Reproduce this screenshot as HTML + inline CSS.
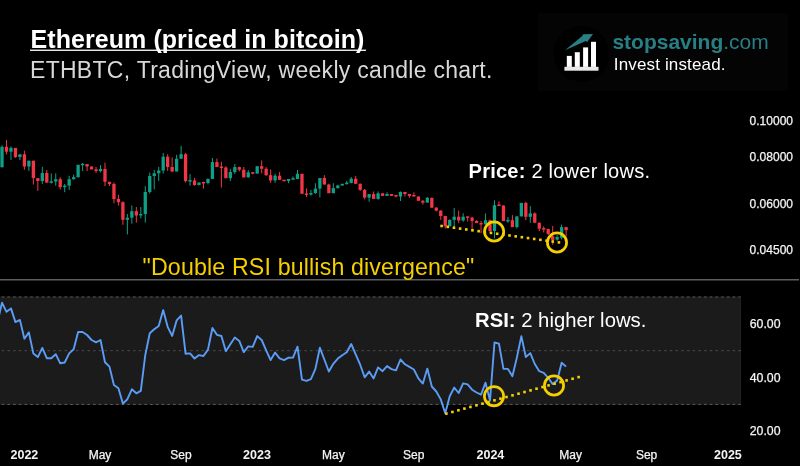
<!DOCTYPE html>
<html><head><meta charset="utf-8"><title>ETHBTC</title><style>
html,body{margin:0;padding:0;background:#000;width:800px;height:466px;overflow:hidden}
svg{display:block;position:absolute;left:0;top:0;will-change:transform}
text{font-family:"Liberation Sans",sans-serif}
</style></head><body>
<svg width="800" height="466" viewBox="0 0 800 466">
<rect x="538" y="13" width="250" height="78" fill="#040404"/>
<circle cx="581.5" cy="54" r="28" fill="#000"/>
<rect x="564.4" y="66.8" width="34.1" height="3.9" fill="#e8e8e8"/>
<rect x="566.8" y="55.9" width="5" height="11.0" fill="#fff"/>
<rect x="574.8" y="52.2" width="5" height="14.7" fill="#fff"/>
<rect x="583.1" y="47.4" width="5" height="19.5" fill="#fff"/>
<rect x="591.0" y="41.8" width="5" height="25.1" fill="#fff"/>
<path d="M565,50.2 L582.6,35.8 L582.9,34.2 L593,34.0 L587.2,42.1 L585.8,41.0 Z" fill="#287f84"/>
<rect x="0" y="279" width="799" height="1.5" fill="#5d5d62"/>
<rect x="0" y="296.5" width="741" height="108.4" fill="#1b1b1b"/>
<line x1="0" y1="297" x2="741" y2="297" stroke="#5a5a5a" stroke-width="1" stroke-dasharray="2.6 3.11" stroke-dashoffset="-1.7"/>
<line x1="0" y1="350.7" x2="741" y2="350.7" stroke="#4a4a4a" stroke-width="1" stroke-dasharray="2.6 3.11" stroke-dashoffset="-1.7"/>
<line x1="0" y1="404.4" x2="741" y2="404.4" stroke="#5e5e5e" stroke-width="1" stroke-dasharray="2.6 3.11" stroke-dashoffset="-1.7"/>
<line x1="740.5" y1="297" x2="740.5" y2="404" stroke="#272727" stroke-width="1" stroke-dasharray="1 1"/>
<rect x="1.51" y="145.3" width="1.0" height="22.2" fill="#0e9f86"/>
<rect x="0.36" y="146.8" width="3.3" height="20.4" fill="#0e9f86"/>
<rect x="5.99" y="140.1" width="1.0" height="14.2" fill="#f23645"/>
<rect x="4.84" y="146.8" width="3.3" height="4.9" fill="#f23645"/>
<rect x="10.47" y="146.3" width="1.0" height="13.8" fill="#0e9f86"/>
<rect x="9.32" y="147.9" width="3.3" height="3.8" fill="#0e9f86"/>
<rect x="14.95" y="147.9" width="1.0" height="10.0" fill="#f23645"/>
<rect x="13.80" y="147.9" width="3.3" height="9.2" fill="#f23645"/>
<rect x="19.42" y="154.3" width="1.0" height="5.8" fill="#0e9f86"/>
<rect x="18.27" y="154.3" width="3.3" height="2.8" fill="#0e9f86"/>
<rect x="23.90" y="150.7" width="1.0" height="19.0" fill="#f23645"/>
<rect x="22.75" y="154.3" width="3.3" height="12.2" fill="#f23645"/>
<rect x="28.38" y="160.7" width="1.0" height="10.3" fill="#0e9f86"/>
<rect x="27.23" y="160.7" width="3.3" height="5.8" fill="#0e9f86"/>
<rect x="32.85" y="160.7" width="1.0" height="23.8" fill="#f23645"/>
<rect x="31.70" y="160.7" width="3.3" height="17.4" fill="#f23645"/>
<rect x="37.33" y="178.1" width="1.0" height="12.9" fill="#f23645"/>
<rect x="36.18" y="178.1" width="3.3" height="2.9" fill="#f23645"/>
<rect x="41.81" y="166.9" width="1.0" height="17.0" fill="#0e9f86"/>
<rect x="40.66" y="173.0" width="3.3" height="8.0" fill="#0e9f86"/>
<rect x="46.28" y="170.0" width="1.0" height="12.6" fill="#f23645"/>
<rect x="45.13" y="173.0" width="3.3" height="9.6" fill="#f23645"/>
<rect x="50.76" y="173.4" width="1.0" height="10.2" fill="#0e9f86"/>
<rect x="49.61" y="181.3" width="3.3" height="1.5" fill="#0e9f86"/>
<rect x="55.24" y="173.4" width="1.0" height="12.3" fill="#0e9f86"/>
<rect x="54.09" y="179.2" width="3.3" height="2.3" fill="#0e9f86"/>
<rect x="59.72" y="177.2" width="1.0" height="12.3" fill="#f23645"/>
<rect x="58.57" y="179.2" width="3.3" height="7.9" fill="#f23645"/>
<rect x="64.19" y="184.0" width="1.0" height="8.2" fill="#0e9f86"/>
<rect x="63.04" y="185.6" width="3.3" height="1.5" fill="#0e9f86"/>
<rect x="68.67" y="175.8" width="1.0" height="14.2" fill="#0e9f86"/>
<rect x="67.52" y="179.2" width="3.3" height="6.5" fill="#0e9f86"/>
<rect x="73.15" y="174.6" width="1.0" height="4.9" fill="#0e9f86"/>
<rect x="72.00" y="177.2" width="3.3" height="2.0" fill="#0e9f86"/>
<rect x="77.62" y="164.8" width="1.0" height="12.7" fill="#0e9f86"/>
<rect x="76.47" y="164.8" width="3.3" height="12.4" fill="#0e9f86"/>
<rect x="82.10" y="163.1" width="1.0" height="8.0" fill="#0e9f86"/>
<rect x="80.95" y="163.7" width="3.3" height="1.5" fill="#0e9f86"/>
<rect x="86.58" y="164.0" width="1.0" height="7.1" fill="#f23645"/>
<rect x="85.43" y="164.0" width="3.3" height="2.5" fill="#f23645"/>
<rect x="91.06" y="166.5" width="1.0" height="2.9" fill="#f23645"/>
<rect x="89.91" y="166.5" width="3.3" height="2.9" fill="#f23645"/>
<rect x="95.53" y="166.9" width="1.0" height="6.0" fill="#f23645"/>
<rect x="94.38" y="169.4" width="3.3" height="1.7" fill="#f23645"/>
<rect x="100.01" y="165.1" width="1.0" height="7.2" fill="#0e9f86"/>
<rect x="98.86" y="168.9" width="3.3" height="2.2" fill="#0e9f86"/>
<rect x="104.49" y="162.6" width="1.0" height="23.5" fill="#f23645"/>
<rect x="103.34" y="168.9" width="3.3" height="12.9" fill="#f23645"/>
<rect x="108.96" y="181.8" width="1.0" height="4.3" fill="#f23645"/>
<rect x="107.81" y="181.8" width="3.3" height="2.2" fill="#f23645"/>
<rect x="113.44" y="182.5" width="1.0" height="20.8" fill="#f23645"/>
<rect x="112.29" y="184.0" width="3.3" height="15.0" fill="#f23645"/>
<rect x="117.92" y="194.7" width="1.0" height="10.8" fill="#f23645"/>
<rect x="116.77" y="199.0" width="3.3" height="3.2" fill="#f23645"/>
<rect x="122.39" y="201.2" width="1.0" height="23.6" fill="#f23645"/>
<rect x="121.24" y="202.2" width="3.3" height="17.6" fill="#f23645"/>
<rect x="126.87" y="214.0" width="1.0" height="20.4" fill="#0e9f86"/>
<rect x="125.72" y="217.7" width="3.3" height="2.1" fill="#0e9f86"/>
<rect x="131.35" y="205.5" width="1.0" height="18.2" fill="#0e9f86"/>
<rect x="130.20" y="211.2" width="3.3" height="6.5" fill="#0e9f86"/>
<rect x="135.83" y="207.0" width="1.0" height="15.6" fill="#f23645"/>
<rect x="134.68" y="211.2" width="3.3" height="4.3" fill="#f23645"/>
<rect x="140.30" y="207.0" width="1.0" height="11.3" fill="#0e9f86"/>
<rect x="139.15" y="214.0" width="3.3" height="1.5" fill="#0e9f86"/>
<rect x="144.78" y="186.1" width="1.0" height="36.5" fill="#0e9f86"/>
<rect x="143.63" y="192.0" width="3.3" height="22.0" fill="#0e9f86"/>
<rect x="149.26" y="172.6" width="1.0" height="21.0" fill="#0e9f86"/>
<rect x="148.11" y="176.0" width="3.3" height="16.0" fill="#0e9f86"/>
<rect x="153.73" y="170.0" width="1.0" height="19.4" fill="#0e9f86"/>
<rect x="152.58" y="173.3" width="3.3" height="2.7" fill="#0e9f86"/>
<rect x="158.21" y="166.8" width="1.0" height="14.0" fill="#0e9f86"/>
<rect x="157.06" y="170.5" width="3.3" height="2.8" fill="#0e9f86"/>
<rect x="162.69" y="152.9" width="1.0" height="20.6" fill="#0e9f86"/>
<rect x="161.54" y="156.7" width="3.3" height="13.8" fill="#0e9f86"/>
<rect x="167.16" y="154.2" width="1.0" height="16.7" fill="#f23645"/>
<rect x="166.01" y="156.7" width="3.3" height="10.3" fill="#f23645"/>
<rect x="171.64" y="157.4" width="1.0" height="14.5" fill="#f23645"/>
<rect x="170.49" y="167.0" width="3.3" height="4.5" fill="#f23645"/>
<rect x="176.12" y="154.8" width="1.0" height="16.7" fill="#0e9f86"/>
<rect x="174.97" y="158.7" width="3.3" height="12.8" fill="#0e9f86"/>
<rect x="180.60" y="145.8" width="1.0" height="12.9" fill="#0e9f86"/>
<rect x="179.45" y="154.2" width="3.3" height="4.5" fill="#0e9f86"/>
<rect x="185.07" y="152.9" width="1.0" height="29.6" fill="#f23645"/>
<rect x="183.92" y="154.2" width="3.3" height="27.0" fill="#f23645"/>
<rect x="189.55" y="174.1" width="1.0" height="11.6" fill="#0e9f86"/>
<rect x="188.40" y="180.1" width="3.3" height="1.5" fill="#0e9f86"/>
<rect x="194.03" y="178.0" width="1.0" height="7.7" fill="#f23645"/>
<rect x="192.88" y="180.5" width="3.3" height="4.5" fill="#f23645"/>
<rect x="198.50" y="182.5" width="1.0" height="2.8" fill="#0e9f86"/>
<rect x="197.35" y="182.5" width="3.3" height="2.5" fill="#0e9f86"/>
<rect x="202.98" y="181.8" width="1.0" height="6.8" fill="#f23645"/>
<rect x="201.83" y="182.0" width="3.3" height="1.5" fill="#f23645"/>
<rect x="207.46" y="178.6" width="1.0" height="5.8" fill="#0e9f86"/>
<rect x="206.31" y="178.9" width="3.3" height="4.1" fill="#0e9f86"/>
<rect x="211.93" y="158.0" width="1.0" height="20.9" fill="#0e9f86"/>
<rect x="210.78" y="162.1" width="3.3" height="16.8" fill="#0e9f86"/>
<rect x="216.41" y="158.5" width="1.0" height="8.6" fill="#f23645"/>
<rect x="215.26" y="162.1" width="3.3" height="4.9" fill="#f23645"/>
<rect x="220.89" y="161.7" width="1.0" height="25.8" fill="#f23645"/>
<rect x="219.74" y="166.5" width="3.3" height="1.5" fill="#f23645"/>
<rect x="225.37" y="166.2" width="1.0" height="12.0" fill="#f23645"/>
<rect x="224.22" y="167.5" width="3.3" height="10.7" fill="#f23645"/>
<rect x="229.84" y="168.8" width="1.0" height="12.2" fill="#0e9f86"/>
<rect x="228.69" y="172.0" width="3.3" height="6.2" fill="#0e9f86"/>
<rect x="234.32" y="164.0" width="1.0" height="10.0" fill="#0e9f86"/>
<rect x="233.17" y="167.1" width="3.3" height="4.9" fill="#0e9f86"/>
<rect x="238.80" y="166.6" width="1.0" height="4.8" fill="#f23645"/>
<rect x="237.65" y="167.1" width="3.3" height="2.6" fill="#f23645"/>
<rect x="243.27" y="166.9" width="1.0" height="10.5" fill="#f23645"/>
<rect x="242.12" y="169.7" width="3.3" height="7.7" fill="#f23645"/>
<rect x="247.75" y="170.1" width="1.0" height="7.3" fill="#0e9f86"/>
<rect x="246.60" y="172.3" width="3.3" height="5.1" fill="#0e9f86"/>
<rect x="252.23" y="172.0" width="1.0" height="2.3" fill="#f23645"/>
<rect x="251.08" y="172.2" width="3.3" height="1.5" fill="#f23645"/>
<rect x="256.70" y="166.2" width="1.0" height="7.4" fill="#0e9f86"/>
<rect x="255.55" y="166.2" width="3.3" height="7.4" fill="#0e9f86"/>
<rect x="261.18" y="160.4" width="1.0" height="12.9" fill="#f23645"/>
<rect x="260.03" y="166.2" width="3.3" height="2.6" fill="#f23645"/>
<rect x="265.66" y="167.1" width="1.0" height="8.8" fill="#f23645"/>
<rect x="264.51" y="168.8" width="3.3" height="6.4" fill="#f23645"/>
<rect x="270.13" y="169.5" width="1.0" height="13.3" fill="#f23645"/>
<rect x="268.99" y="175.2" width="3.3" height="5.2" fill="#f23645"/>
<rect x="274.61" y="173.8" width="1.0" height="9.0" fill="#0e9f86"/>
<rect x="273.46" y="175.7" width="3.3" height="4.7" fill="#0e9f86"/>
<rect x="279.09" y="172.1" width="1.0" height="7.8" fill="#f23645"/>
<rect x="277.94" y="175.7" width="3.3" height="4.2" fill="#f23645"/>
<rect x="283.57" y="179.9" width="1.0" height="1.6" fill="#f23645"/>
<rect x="282.42" y="179.7" width="3.3" height="1.5" fill="#f23645"/>
<rect x="288.04" y="179.0" width="1.0" height="4.2" fill="#0e9f86"/>
<rect x="286.89" y="179.0" width="3.3" height="1.9" fill="#0e9f86"/>
<rect x="292.52" y="176.4" width="1.0" height="3.2" fill="#0e9f86"/>
<rect x="291.37" y="178.2" width="3.3" height="1.5" fill="#0e9f86"/>
<rect x="297.00" y="170.0" width="1.0" height="9.3" fill="#0e9f86"/>
<rect x="295.85" y="173.8" width="3.3" height="5.2" fill="#0e9f86"/>
<rect x="301.47" y="173.8" width="1.0" height="20.0" fill="#f23645"/>
<rect x="300.32" y="173.8" width="3.3" height="20.0" fill="#f23645"/>
<rect x="305.95" y="188.4" width="1.0" height="8.6" fill="#f23645"/>
<rect x="304.80" y="193.4" width="3.3" height="1.5" fill="#f23645"/>
<rect x="310.43" y="189.9" width="1.0" height="5.8" fill="#0e9f86"/>
<rect x="309.28" y="193.0" width="3.3" height="1.5" fill="#0e9f86"/>
<rect x="314.90" y="183.2" width="1.0" height="10.6" fill="#0e9f86"/>
<rect x="313.75" y="188.6" width="3.3" height="4.5" fill="#0e9f86"/>
<rect x="319.38" y="178.0" width="1.0" height="19.4" fill="#0e9f86"/>
<rect x="318.23" y="178.0" width="3.3" height="10.6" fill="#0e9f86"/>
<rect x="323.86" y="175.2" width="1.0" height="9.3" fill="#f23645"/>
<rect x="322.71" y="178.0" width="3.3" height="6.5" fill="#f23645"/>
<rect x="328.34" y="183.8" width="1.0" height="9.4" fill="#f23645"/>
<rect x="327.19" y="184.5" width="3.3" height="8.7" fill="#f23645"/>
<rect x="332.81" y="183.2" width="1.0" height="10.0" fill="#0e9f86"/>
<rect x="331.66" y="188.1" width="3.3" height="5.1" fill="#0e9f86"/>
<rect x="337.29" y="184.7" width="1.0" height="3.9" fill="#0e9f86"/>
<rect x="336.14" y="185.5" width="3.3" height="2.6" fill="#0e9f86"/>
<rect x="341.77" y="183.8" width="1.0" height="1.9" fill="#0e9f86"/>
<rect x="340.62" y="183.8" width="3.3" height="1.7" fill="#0e9f86"/>
<rect x="346.24" y="180.8" width="1.0" height="3.9" fill="#0e9f86"/>
<rect x="345.09" y="182.6" width="3.3" height="1.5" fill="#0e9f86"/>
<rect x="350.72" y="177.0" width="1.0" height="6.4" fill="#0e9f86"/>
<rect x="349.57" y="178.7" width="3.3" height="4.2" fill="#0e9f86"/>
<rect x="355.20" y="176.1" width="1.0" height="7.7" fill="#f23645"/>
<rect x="354.05" y="178.7" width="3.3" height="5.1" fill="#f23645"/>
<rect x="359.68" y="183.4" width="1.0" height="7.5" fill="#f23645"/>
<rect x="358.53" y="183.8" width="3.3" height="6.1" fill="#f23645"/>
<rect x="364.15" y="189.0" width="1.0" height="10.3" fill="#f23645"/>
<rect x="363.00" y="189.9" width="3.3" height="7.7" fill="#f23645"/>
<rect x="368.63" y="194.1" width="1.0" height="7.7" fill="#0e9f86"/>
<rect x="367.48" y="194.1" width="3.3" height="3.5" fill="#0e9f86"/>
<rect x="373.11" y="191.5" width="1.0" height="7.4" fill="#f23645"/>
<rect x="371.96" y="194.1" width="3.3" height="4.8" fill="#f23645"/>
<rect x="377.58" y="191.4" width="1.0" height="8.3" fill="#0e9f86"/>
<rect x="376.43" y="193.3" width="3.3" height="5.6" fill="#0e9f86"/>
<rect x="382.06" y="193.3" width="1.0" height="2.6" fill="#f23645"/>
<rect x="380.91" y="193.3" width="3.3" height="2.6" fill="#f23645"/>
<rect x="386.54" y="192.3" width="1.0" height="3.6" fill="#0e9f86"/>
<rect x="385.39" y="194.0" width="3.3" height="1.9" fill="#0e9f86"/>
<rect x="391.01" y="194.0" width="1.0" height="1.9" fill="#f23645"/>
<rect x="389.86" y="194.0" width="3.3" height="1.9" fill="#f23645"/>
<rect x="395.49" y="195.0" width="1.0" height="2.4" fill="#f23645"/>
<rect x="394.34" y="195.0" width="3.3" height="1.5" fill="#f23645"/>
<rect x="399.97" y="191.4" width="1.0" height="9.6" fill="#0e9f86"/>
<rect x="398.82" y="192.0" width="3.3" height="4.5" fill="#0e9f86"/>
<rect x="404.44" y="192.0" width="1.0" height="4.5" fill="#f23645"/>
<rect x="403.30" y="192.0" width="3.3" height="2.0" fill="#f23645"/>
<rect x="408.92" y="194.0" width="1.0" height="3.8" fill="#f23645"/>
<rect x="407.77" y="194.0" width="3.3" height="1.9" fill="#f23645"/>
<rect x="413.40" y="192.3" width="1.0" height="4.2" fill="#f23645"/>
<rect x="412.25" y="195.0" width="3.3" height="1.5" fill="#f23645"/>
<rect x="417.88" y="196.5" width="1.0" height="4.3" fill="#f23645"/>
<rect x="416.73" y="196.5" width="3.3" height="4.3" fill="#f23645"/>
<rect x="422.35" y="200.0" width="1.0" height="4.6" fill="#f23645"/>
<rect x="421.20" y="200.8" width="3.3" height="1.8" fill="#f23645"/>
<rect x="426.83" y="196.9" width="1.0" height="5.7" fill="#0e9f86"/>
<rect x="425.68" y="197.8" width="3.3" height="4.8" fill="#0e9f86"/>
<rect x="431.31" y="197.8" width="1.0" height="9.9" fill="#f23645"/>
<rect x="430.16" y="197.8" width="3.3" height="9.9" fill="#f23645"/>
<rect x="435.78" y="207.0" width="1.0" height="4.5" fill="#f23645"/>
<rect x="434.63" y="207.7" width="3.3" height="2.9" fill="#f23645"/>
<rect x="440.26" y="210.2" width="1.0" height="9.7" fill="#f23645"/>
<rect x="439.11" y="210.6" width="3.3" height="5.4" fill="#f23645"/>
<rect x="444.74" y="215.8" width="1.0" height="12.8" fill="#f23645"/>
<rect x="443.59" y="216.0" width="3.3" height="10.3" fill="#f23645"/>
<rect x="449.22" y="219.3" width="1.0" height="7.0" fill="#0e9f86"/>
<rect x="448.07" y="219.9" width="3.3" height="6.4" fill="#0e9f86"/>
<rect x="453.69" y="208.1" width="1.0" height="18.9" fill="#0e9f86"/>
<rect x="452.54" y="216.7" width="3.3" height="3.2" fill="#0e9f86"/>
<rect x="458.17" y="210.6" width="1.0" height="12.5" fill="#f23645"/>
<rect x="457.02" y="216.7" width="3.3" height="3.8" fill="#f23645"/>
<rect x="462.65" y="213.2" width="1.0" height="8.6" fill="#0e9f86"/>
<rect x="461.50" y="216.7" width="3.3" height="3.8" fill="#0e9f86"/>
<rect x="467.12" y="216.3" width="1.0" height="5.1" fill="#f23645"/>
<rect x="465.97" y="216.4" width="3.3" height="1.5" fill="#f23645"/>
<rect x="471.60" y="216.7" width="1.0" height="14.1" fill="#f23645"/>
<rect x="470.45" y="217.6" width="3.3" height="3.3" fill="#f23645"/>
<rect x="476.08" y="220.2" width="1.0" height="2.9" fill="#f23645"/>
<rect x="474.93" y="220.9" width="3.3" height="2.2" fill="#f23645"/>
<rect x="480.55" y="220.9" width="1.0" height="12.2" fill="#f23645"/>
<rect x="479.40" y="223.0" width="3.3" height="1.5" fill="#f23645"/>
<rect x="485.03" y="213.4" width="1.0" height="11.0" fill="#0e9f86"/>
<rect x="483.88" y="220.2" width="3.3" height="4.2" fill="#0e9f86"/>
<rect x="489.51" y="219.6" width="1.0" height="12.9" fill="#f23645"/>
<rect x="488.36" y="220.2" width="3.3" height="10.8" fill="#f23645"/>
<rect x="493.99" y="200.3" width="1.0" height="38.2" fill="#0e9f86"/>
<rect x="492.84" y="205.2" width="3.3" height="25.8" fill="#0e9f86"/>
<rect x="498.46" y="201.3" width="1.0" height="4.2" fill="#f23645"/>
<rect x="497.31" y="204.6" width="3.3" height="1.5" fill="#f23645"/>
<rect x="502.94" y="205.4" width="1.0" height="15.7" fill="#f23645"/>
<rect x="501.79" y="205.5" width="3.3" height="15.6" fill="#f23645"/>
<rect x="507.42" y="217.0" width="1.0" height="5.8" fill="#0e9f86"/>
<rect x="506.27" y="219.9" width="3.3" height="1.5" fill="#0e9f86"/>
<rect x="511.89" y="215.1" width="1.0" height="12.0" fill="#f23645"/>
<rect x="510.74" y="220.2" width="3.3" height="6.9" fill="#f23645"/>
<rect x="516.37" y="216.4" width="1.0" height="12.0" fill="#0e9f86"/>
<rect x="515.22" y="216.4" width="3.3" height="10.7" fill="#0e9f86"/>
<rect x="520.85" y="202.9" width="1.0" height="13.5" fill="#0e9f86"/>
<rect x="519.70" y="202.9" width="3.3" height="13.5" fill="#0e9f86"/>
<rect x="525.32" y="201.8" width="1.0" height="18.4" fill="#f23645"/>
<rect x="524.17" y="202.9" width="3.3" height="13.9" fill="#f23645"/>
<rect x="529.80" y="206.1" width="1.0" height="16.7" fill="#0e9f86"/>
<rect x="528.65" y="213.4" width="3.3" height="3.4" fill="#0e9f86"/>
<rect x="534.28" y="212.4" width="1.0" height="10.4" fill="#f23645"/>
<rect x="533.13" y="213.4" width="3.3" height="9.4" fill="#f23645"/>
<rect x="538.75" y="222.3" width="1.0" height="8.7" fill="#f23645"/>
<rect x="537.61" y="222.8" width="3.3" height="5.9" fill="#f23645"/>
<rect x="543.23" y="226.4" width="1.0" height="6.0" fill="#f23645"/>
<rect x="542.08" y="228.1" width="3.3" height="1.5" fill="#f23645"/>
<rect x="547.71" y="228.7" width="1.0" height="6.3" fill="#f23645"/>
<rect x="546.56" y="229.0" width="3.3" height="4.9" fill="#f23645"/>
<rect x="552.19" y="226.0" width="1.0" height="18.8" fill="#f23645"/>
<rect x="551.04" y="236.2" width="3.3" height="3.7" fill="#f23645"/>
<rect x="556.66" y="235.0" width="1.0" height="5.7" fill="#0e9f86"/>
<rect x="555.51" y="236.9" width="3.3" height="2.8" fill="#0e9f86"/>
<rect x="561.14" y="224.5" width="1.0" height="15.0" fill="#0e9f86"/>
<rect x="559.99" y="227.1" width="3.3" height="10.6" fill="#0e9f86"/>
<rect x="565.62" y="227.1" width="1.0" height="9.1" fill="#f23645"/>
<rect x="564.47" y="227.1" width="3.3" height="3.1" fill="#f23645"/>
<polyline points="-2.46,322.0 2.01,302.7 6.49,311.8 10.97,308.4 15.45,322.1 19.92,319.9 24.40,338.8 28.88,332.4 33.35,353.4 37.83,357.1 42.31,347.9 46.78,358.2 51.26,358.2 55.74,354.2 60.22,363.3 64.69,362.5 69.17,353.4 73.65,349.2 78.12,332.0 82.60,332.0 87.08,335.0 91.56,340.0 96.03,342.4 100.51,340.0 104.99,362.2 109.46,366.6 113.94,385.1 118.42,388.3 122.89,403.6 127.37,399.2 131.85,389.3 136.33,393.3 140.80,390.8 145.28,355.0 149.76,333.2 154.23,329.3 158.71,325.9 163.19,310.1 167.66,326.8 172.14,335.9 176.62,320.4 181.10,315.6 185.57,353.7 190.05,353.4 194.53,358.5 199.00,355.1 203.48,356.0 207.96,349.6 212.43,328.0 216.91,334.8 221.39,336.0 225.87,351.2 230.34,344.3 234.82,337.5 239.30,340.9 243.77,352.1 248.25,346.4 252.73,346.9 257.20,336.1 261.68,340.0 266.16,350.3 270.63,360.1 275.11,352.6 279.59,358.4 284.07,360.1 288.54,357.7 293.02,357.6 297.50,346.7 301.97,379.7 306.45,380.9 310.93,379.2 315.40,368.9 319.88,347.8 324.36,359.5 328.84,371.5 333.31,363.8 337.79,358.6 342.27,355.2 346.74,352.3 351.22,344.0 355.70,354.3 360.18,364.7 364.65,377.3 369.13,371.6 373.61,378.4 378.08,367.4 382.56,371.2 387.04,366.1 391.51,369.1 395.99,370.3 400.47,359.5 404.94,364.3 409.42,366.9 413.90,369.5 418.38,378.4 422.85,383.6 427.33,368.6 431.81,386.5 436.28,391.5 440.76,399.4 445.24,413.3 449.72,396.2 454.19,387.6 458.67,393.0 463.15,383.3 467.62,384.4 472.10,389.7 476.58,392.5 481.05,394.7 485.53,382.7 490.01,400.5 494.49,342.5 498.96,343.6 503.44,368.9 507.92,368.9 512.39,376.2 516.87,357.6 521.35,336.1 525.82,357.0 530.30,353.1 534.78,364.0 539.25,371.2 543.73,372.8 548.21,377.8 552.69,384.1 557.16,380.5 561.64,362.7 566.12,366.6" fill="none" stroke="#5b9cf6" stroke-width="1.9" stroke-linejoin="round"/>
<rect x="440.30" y="224.70" width="2.6" height="2.6" fill="#f5d000"/><rect x="446.47" y="225.56" width="2.6" height="2.6" fill="#f5d000"/><rect x="452.65" y="226.43" width="2.6" height="2.6" fill="#f5d000"/><rect x="458.82" y="227.29" width="2.6" height="2.6" fill="#f5d000"/><rect x="464.99" y="228.15" width="2.6" height="2.6" fill="#f5d000"/><rect x="471.17" y="229.02" width="2.6" height="2.6" fill="#f5d000"/><rect x="477.34" y="229.88" width="2.6" height="2.6" fill="#f5d000"/><rect x="483.52" y="230.74" width="2.6" height="2.6" fill="#f5d000"/><rect x="489.69" y="231.61" width="2.6" height="2.6" fill="#f5d000"/><rect x="495.86" y="232.47" width="2.6" height="2.6" fill="#f5d000"/><rect x="502.04" y="233.33" width="2.6" height="2.6" fill="#f5d000"/><rect x="508.21" y="234.19" width="2.6" height="2.6" fill="#f5d000"/><rect x="514.38" y="235.06" width="2.6" height="2.6" fill="#f5d000"/><rect x="520.56" y="235.92" width="2.6" height="2.6" fill="#f5d000"/><rect x="526.73" y="236.78" width="2.6" height="2.6" fill="#f5d000"/><rect x="532.91" y="237.65" width="2.6" height="2.6" fill="#f5d000"/><rect x="539.08" y="238.51" width="2.6" height="2.6" fill="#f5d000"/><rect x="545.25" y="239.37" width="2.6" height="2.6" fill="#f5d000"/><rect x="551.43" y="240.24" width="2.6" height="2.6" fill="#f5d000"/><rect x="557.60" y="241.10" width="2.6" height="2.6" fill="#f5d000"/>
<rect x="445.10" y="412.30" width="2.6" height="2.6" fill="#f5d000"/><rect x="451.11" y="410.64" width="2.6" height="2.6" fill="#f5d000"/><rect x="457.12" y="408.98" width="2.6" height="2.6" fill="#f5d000"/><rect x="463.13" y="407.32" width="2.6" height="2.6" fill="#f5d000"/><rect x="469.14" y="405.66" width="2.6" height="2.6" fill="#f5d000"/><rect x="475.15" y="404.00" width="2.6" height="2.6" fill="#f5d000"/><rect x="481.15" y="402.35" width="2.6" height="2.6" fill="#f5d000"/><rect x="487.16" y="400.69" width="2.6" height="2.6" fill="#f5d000"/><rect x="493.17" y="399.03" width="2.6" height="2.6" fill="#f5d000"/><rect x="499.18" y="397.37" width="2.6" height="2.6" fill="#f5d000"/><rect x="505.19" y="395.71" width="2.6" height="2.6" fill="#f5d000"/><rect x="511.20" y="394.05" width="2.6" height="2.6" fill="#f5d000"/><rect x="517.21" y="392.39" width="2.6" height="2.6" fill="#f5d000"/><rect x="523.22" y="390.73" width="2.6" height="2.6" fill="#f5d000"/><rect x="529.23" y="389.07" width="2.6" height="2.6" fill="#f5d000"/><rect x="535.24" y="387.41" width="2.6" height="2.6" fill="#f5d000"/><rect x="541.25" y="385.75" width="2.6" height="2.6" fill="#f5d000"/><rect x="547.25" y="384.10" width="2.6" height="2.6" fill="#f5d000"/><rect x="553.26" y="382.44" width="2.6" height="2.6" fill="#f5d000"/><rect x="559.27" y="380.78" width="2.6" height="2.6" fill="#f5d000"/><rect x="565.28" y="379.12" width="2.6" height="2.6" fill="#f5d000"/><rect x="571.29" y="377.46" width="2.6" height="2.6" fill="#f5d000"/><rect x="577.30" y="375.80" width="2.6" height="2.6" fill="#f5d000"/>
<circle cx="494.1" cy="231.5" r="9.6" fill="none" stroke="#f5d000" stroke-width="2.7"/>
<circle cx="557" cy="242.5" r="9.6" fill="none" stroke="#f5d000" stroke-width="2.7"/>
<circle cx="494" cy="396.2" r="9.6" fill="none" stroke="#f5d000" stroke-width="2.7"/>
<circle cx="554" cy="385.5" r="9.6" fill="none" stroke="#f5d000" stroke-width="2.7"/>
<text x="30.5" y="47.6" font-size="25" fill="#fff" font-weight="bold" text-anchor="start" letter-spacing="0.07">Ethereum (priced in bitcoin)</text>
<rect x="30" y="49.6" width="336" height="1.3" fill="#fff"/>
<text x="30.0" y="77.6" font-size="23" fill="#d8d8d8" font-weight="normal" text-anchor="start" letter-spacing="0.29">ETHBTC, TradingView, weekly candle chart.</text>
<text x="612.4" y="49" font-size="21" fill="#287f84"><tspan font-weight="bold">stopsaving</tspan>.com</text>
<text x="613.8" y="70.4" font-size="17" fill="#fff" font-weight="normal" text-anchor="start" letter-spacing="0.15">Invest instead.</text>
<text x="468.6" y="177.6" font-size="20.1" fill="#fff" letter-spacing="0.2"><tspan font-weight="bold">Price:</tspan> 2 lower lows.</text>
<text x="475.0" y="326.9" font-size="20.3" fill="#fff"><tspan font-weight="bold">RSI:</tspan> 2 higher lows.</text>
<text x="142.6" y="274.7" font-size="23.2" fill="#f5d000" font-weight="normal" text-anchor="start" letter-spacing="0.15">"Double RSI bullish divergence"</text>
<text x="793" y="125.3" font-size="12" fill="#f4f4f4" font-weight="normal" text-anchor="end" stroke="#f4f4f4" stroke-width="0.25">0.10000</text>
<text x="793" y="161.1" font-size="12" fill="#f4f4f4" font-weight="normal" text-anchor="end" stroke="#f4f4f4" stroke-width="0.25">0.08000</text>
<text x="793" y="207.9" font-size="12" fill="#f4f4f4" font-weight="normal" text-anchor="end" stroke="#f4f4f4" stroke-width="0.25">0.06000</text>
<text x="793" y="254.1" font-size="12" fill="#f4f4f4" font-weight="normal" text-anchor="end" stroke="#f4f4f4" stroke-width="0.25">0.04500</text>
<text x="780.5" y="327.9" font-size="12.3" fill="#f4f4f4" font-weight="normal" text-anchor="end" stroke="#f4f4f4" stroke-width="0.25">60.00</text>
<text x="780.5" y="381.59999999999997" font-size="12.3" fill="#f4f4f4" font-weight="normal" text-anchor="end" stroke="#f4f4f4" stroke-width="0.25">40.00</text>
<text x="780.5" y="435.4" font-size="12.3" fill="#f4f4f4" font-weight="normal" text-anchor="end" stroke="#f4f4f4" stroke-width="0.25">20.00</text>
<text x="24.4" y="459" font-size="12.5" fill="#f4f4f4" font-weight="bold" text-anchor="middle" >2022</text>
<text x="100" y="459" font-size="12" fill="#f4f4f4" font-weight="normal" text-anchor="middle" stroke="#f4f4f4" stroke-width="0.25">May</text>
<text x="181" y="459" font-size="12" fill="#f4f4f4" font-weight="normal" text-anchor="middle" stroke="#f4f4f4" stroke-width="0.25">Sep</text>
<text x="257" y="459" font-size="12.5" fill="#f4f4f4" font-weight="bold" text-anchor="middle" >2023</text>
<text x="333.4" y="459" font-size="12" fill="#f4f4f4" font-weight="normal" text-anchor="middle" stroke="#f4f4f4" stroke-width="0.25">May</text>
<text x="413.75" y="459" font-size="12" fill="#f4f4f4" font-weight="normal" text-anchor="middle" stroke="#f4f4f4" stroke-width="0.25">Sep</text>
<text x="490.4" y="459" font-size="12.5" fill="#f4f4f4" font-weight="bold" text-anchor="middle" >2024</text>
<text x="570.6" y="459" font-size="12" fill="#f4f4f4" font-weight="normal" text-anchor="middle" stroke="#f4f4f4" stroke-width="0.25">May</text>
<text x="646.6" y="459" font-size="12" fill="#f4f4f4" font-weight="normal" text-anchor="middle" stroke="#f4f4f4" stroke-width="0.25">Sep</text>
<text x="727.9" y="459" font-size="12.5" fill="#f4f4f4" font-weight="bold" text-anchor="middle" >2025</text>
</svg>
</body></html>
